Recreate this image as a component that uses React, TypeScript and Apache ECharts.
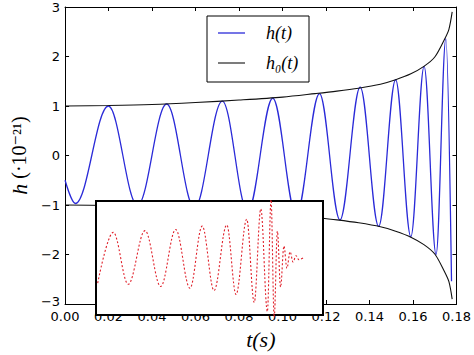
import React, { useEffect, useRef } from 'react';
import * as echarts from 'echarts';

// Main signal h(t): extrema (t in s, h in 1e-21)
const hTimes = [0, 0.0048, 0.0199, 0.0333, 0.0467, 0.0595, 0.0723, 0.084, 0.0955, 0.1063, 0.117, 0.1264, 0.1357, 0.1442, 0.152, 0.159, 0.1651, 0.1706, 0.1751, 0.1777];
const hValues = [-0.5, -0.97, 1.0, -1.01, 1.04, -1.06, 1.1, -1.13, 1.16, -1.2, 1.25, -1.3, 1.38, -1.43, 1.53, -1.64, 1.8, -2.0, 2.36, -2.54];

// Envelope h0(t)
const envTimes = [0, 0.02, 0.04, 0.06, 0.08, 0.1, 0.115, 0.125, 0.135, 0.145, 0.152, 0.159, 0.165, 0.17, 0.1745, 0.1765, 0.178];
const envValues = [1.0, 1.01, 1.03, 1.07, 1.12, 1.18, 1.25, 1.3, 1.36, 1.44, 1.53, 1.65, 1.8, 1.99, 2.35, 2.55, 2.9];

// Inset waveform (arbitrary units)
const insetX = [0.0075, 0.076, 0.142, 0.216, 0.285, 0.351, 0.414, 0.468, 0.52, 0.576, 0.617, 0.664, 0.697, 0.726, 0.755, 0.771, 0.785, 0.799, 0.813, 0.828, 0.841, 0.855, 0.868, 0.881, 0.894, 0.912];
const insetY = [-0.44, 0.45, -0.46, 0.48, -0.5, 0.5, -0.53, 0.56, -0.57, 0.58, -0.64, 0.68, -0.78, 0.86, -0.94, 1.02, -1.04, 0.47, -0.51, 0.21, -0.18, 0.11, -0.07, 0.04, -0.03, 0.0];

const xMin = 0, xMax = 0.18, xStep = 0.02;
const yMin = -3, yMax = 3, yStep = 1;

const legendNames = ['h(t)', 'h₀(t)'];

export default function App() {
  const ref = useRef<HTMLDivElement>(null);
  useEffect(() => {
    document.body.style.margin = '0';
    const chart = echarts.init(ref.current!, null, { renderer: 'svg' });
    const hData = hTimes.map((t, i) => [t, hValues[i]]);
    const upper = envTimes.map((t, i) => [t, envValues[i]]);
    const lower = envTimes.map((t, i) => [t, -envValues[i]]);
    const inset = insetX.map((x, i) => [x, insetY[i]]);
    const tickFont = { fontFamily: 'DejaVu Sans', fontSize: 13, color: '#000' };
    const minus = (s: string) => s.replace('-', '\u2212');
    const frameLine = { show: true, onZero: false, lineStyle: { color: '#000', width: 1 } };
    const tick = { show: true, inside: true, length: 4, lineStyle: { color: '#000' } };
    chart.setOption({
      animation: false,
      grid: [
        { left: 57, top: 7, width: 403, height: 310, containLabel: false },
        { left: 96, top: 201, width: 227, height: 114, show: true, backgroundColor: '#fff', borderColor: '#000', borderWidth: 2, z: 3 },
      ],
      xAxis: [
        {
          type: 'value', gridIndex: 0, min: xMin, max: xMax, interval: xStep, position: 'bottom',
          axisLine: frameLine, axisTick: tick,
          axisLabel: { ...tickFont, margin: 6, formatter: (v: number) => v.toFixed(2) },
          splitLine: { show: false },
          name: 't(s)', nameLocation: 'middle', nameGap: 24,
          nameTextStyle: { fontFamily: 'Liberation Serif', fontStyle: 'italic', fontSize: 22, color: '#000' },
        },
        {
          type: 'value', gridIndex: 0, min: xMin, max: xMax, interval: xStep, position: 'top',
          axisLine: frameLine, axisTick: tick,
          axisLabel: { show: false }, splitLine: { show: false },
        },
        { type: 'value', gridIndex: 1, min: 0, max: 1, show: false },
      ],
      yAxis: [
        {
          type: 'value', gridIndex: 0, min: yMin, max: yMax, interval: yStep, position: 'left',
          axisLine: frameLine, axisTick: tick,
          axisLabel: {
            ...tickFont, margin: 5,
            formatter: (v: number) => (v === yMin ? '{b|' + minus(String(v)) + '}' : minus(String(v))),
            rich: { b: { fontFamily: 'DejaVu Sans', fontSize: 13, color: '#000', padding: [0, 0, 6, 0] } },
          },
          splitLine: { show: false },
          name: '{i|h} (·10⁻²¹)', nameLocation: 'middle', nameGap: 30,
          nameTextStyle: {
            fontFamily: 'Liberation Serif, DejaVu Serif', fontSize: 20, color: '#000',
            rich: { i: { fontFamily: 'Liberation Serif', fontStyle: 'italic', fontSize: 22, color: '#000' } },
          },
        },
        {
          type: 'value', gridIndex: 0, min: yMin, max: yMax, interval: yStep, position: 'right',
          axisLine: frameLine, axisTick: tick,
          axisLabel: { show: false }, splitLine: { show: false },
        },
        { type: 'value', gridIndex: 1, min: -1, max: 1, show: false },
      ],
      series: [
        {
          name: legendNames[0], type: 'line', xAxisIndex: 0, yAxisIndex: 0, data: hData,
          smooth: 0.36, smoothMonotone: 'x', showSymbol: false, symbol: 'none',
          lineStyle: { color: '#2a2ad8', width: 1.3 }, z: 2,
        },
        {
          name: legendNames[1], type: 'line', xAxisIndex: 0, yAxisIndex: 0, data: upper,
          smooth: 0.3, showSymbol: false, symbol: 'none',
          lineStyle: { color: '#111', width: 1.1 }, z: 2,
        },
        {
          name: legendNames[1], type: 'line', xAxisIndex: 0, yAxisIndex: 0, data: lower,
          smooth: 0.3, showSymbol: false, symbol: 'none',
          lineStyle: { color: '#111', width: 1.1 }, z: 2,
        },
        {
          name: 'inset', type: 'line', xAxisIndex: 2, yAxisIndex: 2, data: inset,
          smooth: 0.36, smoothMonotone: 'x', showSymbol: false, symbol: 'none', clip: false,
          lineStyle: { color: '#e0202a', width: 1.1, type: [2, 2] }, z: 5,
        },
      ],
      graphic: [
        { type: 'rect', shape: { x: 207, y: 16, width: 102, height: 66 }, style: { fill: '#fff', stroke: '#000', lineWidth: 1 }, z: 10 },
        { type: 'line', shape: { x1: 218, y1: 33, x2: 245, y2: 33 }, style: { stroke: '#2a2ad8', lineWidth: 1.3 }, z: 11 },
        { type: 'line', shape: { x1: 218, y1: 63, x2: 245, y2: 63 }, style: { stroke: '#111', lineWidth: 1.1 }, z: 11 },
        { type: 'text', x: 266, y: 33, style: { text: legendNames[0], font: 'italic 18px "Liberation Serif"', fill: '#000', verticalAlign: 'middle' }, z: 11 },
        { type: 'text', x: 266, y: 63, style: { text: legendNames[1], font: 'italic 18px "Liberation Serif"', fill: '#000', verticalAlign: 'middle' }, z: 11 },
      ],
    });
    return () => chart.dispose();
  }, []);
  return <div ref={ref} style={{ width: 474, height: 355 }} />;
}
